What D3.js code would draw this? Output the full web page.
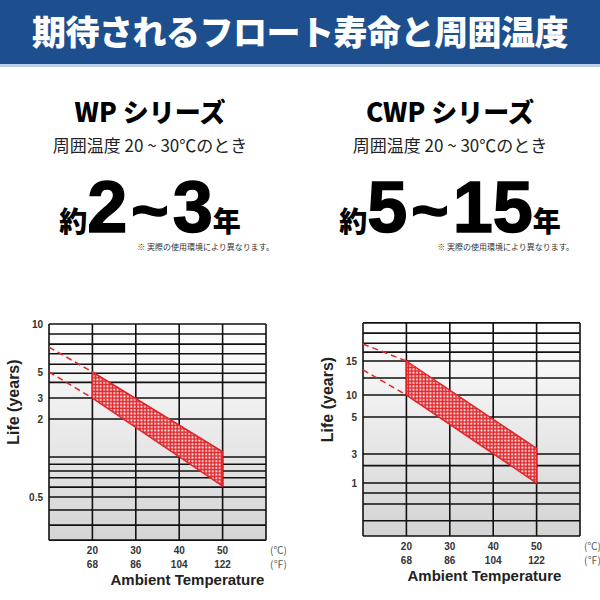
<!DOCTYPE html>
<html><head><meta charset="utf-8">
<script src="https://cdn.jsdelivr.net/npm/d3@7"></script>
<style>body{margin:0;background:#fff}svg{display:block}</style>
</head><body>
<svg id="c" width="600" height="600"></svg>
<script>
const title = "期待されるフロート寿命と周囲温度";
const seriesNames = ["WP シリーズ", "CWP シリーズ"];
const subtitle = "周囲温度 20 ~ 30℃のとき";
const lifeLow = ["2", "5"];
const lifeHigh = ["3", "15"];
const note = "※ 実際の使用環境により異なります。";
const tempC = [20, 30, 40, 50];
const tempF = [68, 86, 104, 122];
const gridTemps = [10, 20, 30, 40, 50, 60];
// left chart (WP)
const wpTicks = [10, 5, 3, 2, 0.5];
const wpGrid = [10, 8.96, 7.9, 6.9, 5.8, 4.9, 4.2, 3, 2, 1.27, 1.13, 1.0, 0.87, 0.69, 0.5, 0.25, -0.04, -0.33];
const wpUpper = [[10, 7.6], [20, 5], [50, 1.37]];
const wpLower = [[10, 5], [20, 3], [50, 0.71]];
// right chart (CWP)
const cwpTicks = [15, 10, 5, 3, 1];
const cwpGrid = [20.6, 19.1, 17.6, 16.3, 15, 12.5, 10, 5, 3, 2.2, 1, 0.31, -0.45, -1.6, -2.66];
const cwpUpper = [[10, 17.5], [20, 15], [50, 3.3]];
const cwpLower = [[10, 13.7], [20, 10], [50, 1]];

const svg = d3.select("#c");
const defs = svg.append("defs");
const g = defs.append("linearGradient").attr("id","bg").attr("x1",0).attr("y1",0).attr("x2",0).attr("y2",1);
g.append("stop").attr("offset",0).attr("stop-color","#ffffff");
g.append("stop").attr("offset",1).attr("stop-color","#d4d4d4");
const p = defs.append("pattern").attr("id","dots").attr("width",3.4).attr("height",3.4).attr("patternUnits","userSpaceOnUse");
p.append("rect").attr("width",3.4).attr("height",3.4).attr("fill","#e0262b");
p.append("rect").attr("x",1.2).attr("y",1.2).attr("width",1.8).attr("height",1.8).attr("fill","#fff");

const JP = "'Noto Sans CJK JP', sans-serif";
svg.append("rect").attr("width",600).attr("height",64).attr("fill","#1d4f8f");
svg.append("rect").attr("y",64).attr("width",600).attr("height",3).attr("fill","#bcd0e8");
svg.append("text").attr("x",300).attr("y",45).attr("text-anchor","middle").attr("fill","#fff")
  .attr("font-family",JP).attr("font-weight",900).attr("font-size",34).attr("letter-spacing",-0.5).text(title);

const cx = [150, 450];
[0,1].forEach(i => {
  svg.append("text").attr("x",cx[i]).attr("y",122).attr("text-anchor","middle").attr("font-family",JP)
    .attr("font-weight",900).attr("font-size",26).text(seriesNames[i]);
  svg.append("text").attr("x",cx[i]).attr("y",152).attr("text-anchor","middle").attr("font-family",JP)
    .attr("font-size",17).attr("fill","#222").text(subtitle);
  const t = svg.append("text").attr("x",cx[i]).attr("y",232).attr("text-anchor","middle").attr("font-family","'Liberation Sans', Arial, sans-serif").attr("font-weight",700)
    .attr("stroke","#000").attr("stroke-width",1.5);
  t.append("tspan").attr("font-family",JP).attr("font-weight",900).attr("font-size",28).attr("stroke-width",0).text("約");
  t.append("tspan").attr("font-size",72).text(lifeLow[i]);
  t.append("tspan").attr("font-size",64).attr("dx",4).text("~");
  t.append("tspan").attr("font-size",72).attr("dx",4).text(lifeHigh[i]);
  t.append("tspan").attr("font-family",JP).attr("font-weight",900).attr("font-size",28).attr("stroke-width",0).text("年");
  svg.append("text").attr("x",cx[i]+124).attr("y",250).attr("text-anchor","end").attr("font-family",JP)
    .attr("font-size",8).attr("fill","#333").text(note);
});

function chart(cfg){
  const x = d3.scaleLinear().domain([10,60]).range([cfg.x0, cfg.x1]);
  const y = d3.scaleLinear().domain(cfg.ticks).range(cfg.tickPos);
  const top = y(cfg.grid[0]), bot = y(cfg.grid[cfg.grid.length-1]);
  const c = svg.append("g");
  c.append("rect").attr("x",cfg.x0).attr("y",top).attr("width",cfg.x1-cfg.x0).attr("height",bot-top).attr("fill","url(#bg)");
  c.selectAll(".h").data(cfg.grid).join("line").attr("x1",cfg.x0).attr("x2",cfg.x1)
    .attr("y1",d=>y(d)).attr("y2",d=>y(d)).attr("stroke","#111").attr("stroke-width",1.6);
  c.selectAll(".v").data(gridTemps).join("line").attr("y1",top).attr("y2",bot)
    .attr("x1",d=>x(d)).attr("x2",d=>x(d)).attr("stroke","#111").attr("stroke-width",1.6);
  const up = cfg.upper.slice(1), lo = cfg.lower.slice(1);
  const poly = up.concat(lo.slice().reverse());
  c.append("path").attr("d", d3.line().x(d=>x(d[0])).y(d=>y(d[1]))(poly)+"Z")
    .attr("fill","url(#dots)").attr("stroke","#e0262b").attr("stroke-width",1.5);
  [cfg.upper, cfg.lower].forEach(s => {
    c.append("path").attr("d", d3.line().x(d=>x(d[0])).y(d=>y(d[1]))(s.slice(0,2)))
      .attr("fill","none").attr("stroke","#e0262b").attr("stroke-width",1.5).attr("stroke-dasharray","6,4");
  });
  const F = "'Liberation Sans', Arial, sans-serif";
  c.selectAll(".yt").data(cfg.ticks).join("text").attr("x",cfg.x0-6).attr("y",d=>y(d)+4)
    .attr("text-anchor","end").attr("font-family",F).attr("font-weight",700).attr("font-size",10).attr("fill","#333").text(d=>d);
  c.selectAll(".xc").data(tempC).join("text").attr("x",d=>x(d)).attr("y",bot+14)
    .attr("text-anchor","middle").attr("font-family",F).attr("font-weight",700).attr("font-size",10).attr("fill","#333").text(d=>d);
  c.selectAll(".xf").data(tempF).join("text").attr("x",(d,i)=>x(tempC[i])).attr("y",bot+28)
    .attr("text-anchor","middle").attr("font-family",F).attr("font-weight",700).attr("font-size",10).attr("fill","#333").text(d=>d);
  c.append("text").attr("x",cfg.x1+4).attr("y",bot+14).attr("font-family",JP).attr("font-size",10).attr("fill","#555").text("(℃)");
  c.append("text").attr("x",cfg.x1+4).attr("y",bot+28).attr("font-family",JP).attr("font-size",10).attr("fill","#555").text("(℉)");
  c.append("text").attr("x",(cfg.x0+cfg.x1)/2+(cfg.xlOff||0)).attr("y",bot+45).attr("text-anchor","middle").attr("font-family",F)
    .attr("font-weight",700).attr("font-size",15).attr("fill","#222").text("Ambient Temperature");
  c.append("text").attr("transform",`translate(${cfg.x0-30},${(top+bot)/2-30}) rotate(-90)`).attr("text-anchor","middle")
    .attr("font-family",F).attr("font-weight",700).attr("font-size",16).attr("fill","#222").text("Life (years)");
}
chart({x0:49,x1:266,ticks:wpTicks,tickPos:[324,372,398,419,497],grid:wpGrid,upper:wpUpper,lower:wpLower,xlOff:30});
chart({x0:363,x1:580,ticks:cwpTicks,tickPos:[361,395,417,454,483],grid:cwpGrid,upper:cwpUpper,lower:cwpLower,xlOff:13});
</script>
</body></html>
